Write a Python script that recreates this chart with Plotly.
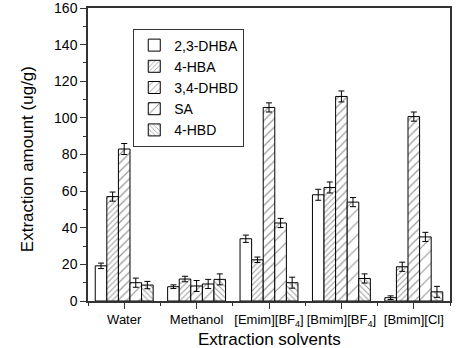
import plotly.graph_objects as go

# Extraction solvents (x categories)
solvents = ["Water", "Methanol", "[Emim][BF<sub>4</sub>]", "[Bmim][BF<sub>4</sub>]", "[Bmim][Cl]"]

# Extraction amounts (ug/g) per compound, with error bar half-widths
dhba_23 = [19.2, 7.8, 34.0, 58.0, 1.8]
dhba_23_err = [1.5, 1.0, 2.0, 3.0, 1.0]
hba_4 = [57.0, 12.0, 22.5, 62.0, 18.7]
hba_4_err = [2.5, 1.5, 1.5, 3.0, 2.5]
dhbd_34 = [83.0, 8.2, 105.7, 111.7, 100.7]
dhbd_34_err = [3.0, 3.0, 2.5, 3.0, 2.5]
sa = [10.0, 9.3, 42.6, 54.0, 35.0]
sa_err = [2.5, 2.5, 2.5, 2.5, 2.5]
hbd_4 = [8.7, 11.8, 10.0, 12.3, 5.0]
hbd_4_err = [2.0, 3.0, 3.0, 2.5, 3.0]

series = [
    ("2,3-DHBA", dhba_23, dhba_23_err, dict(shape="", fgcolor="black")),
    ("4-HBA", hba_4, hba_4_err, dict(shape="/", size=4, solidity=0.25, fgcolor="#333")),
    ("3,4-DHBD", dhbd_34, dhbd_34_err, dict(shape="/", size=6, solidity=0.2, fgcolor="#333")),
    ("SA", sa, sa_err, dict(shape="/", size=9, solidity=0.13, fgcolor="#333")),
    ("4-HBD", hbd_4, hbd_4_err, dict(shape="\\", size=4, solidity=0.25, fgcolor="#333")),
]

x_pos = list(range(1, len(solvents) + 1))

fig = go.Figure()
for name, vals, errs, pattern in series:
    fig.add_trace(go.Bar(
        name=name,
        x=x_pos,
        y=vals,
        error_y=dict(type="data", array=errs, color="black", thickness=1, width=3),
        marker=dict(color="white", line=dict(color="black", width=1), pattern=pattern),
    ))

font_family = "Liberation Sans, Arial"
axis_font = dict(family=font_family, size=13, color="black")
title_font = dict(family=font_family, size=17, color="black")

fig.update_layout(
    width=474,
    height=348,
    margin=dict(l=88, r=24, t=8, b=47),
    plot_bgcolor="white",
    paper_bgcolor="white",
    barmode="group",
    bargap=0.2,
    bargroupgap=0,
    showlegend=True,
    legend=dict(
        x=0.125, y=0.93, xanchor="left", yanchor="top",
        bordercolor="#333", borderwidth=1, bgcolor="white",
        font=dict(family=font_family, size=14, color="black"),
        tracegroupgap=0, itemwidth=30,
    ),
    xaxis=dict(
        range=[0.5, 5.5],
        tickvals=x_pos,
        ticktext=solvents,
        ticks="outside", ticklen=6, tickcolor="#333",
        ticklabelstandoff=0,
        minor=dict(tickvals=[0.5, 1.5, 2.5, 3.5, 4.5, 5.5], ticks="outside", ticklen=3, tickcolor="#333"),
        showline=True, linecolor="#333", linewidth=1.5, mirror=True,
        showgrid=False, zeroline=False,
        tickfont=axis_font,
        automargin=False,
    ),
    yaxis=dict(
        range=[0, 160],
        tick0=0, dtick=20,
        ticks="outside", ticklen=6, tickcolor="#333",
        minor=dict(dtick=10, ticks="outside", ticklen=3, tickcolor="#333"),
        showline=True, linecolor="#333", linewidth=1.5, mirror=True,
        showgrid=False, zeroline=False,
        tickfont=dict(family=font_family, size=14, color="black"),
        ticklabeloverflow="allow",
        automargin=False,
    ),
    annotations=[
        dict(
            text="Extraction amount (ug/g)",
            xref="paper", yref="paper",
            x=-0.165, y=0.485, xanchor="center", yanchor="middle",
            textangle=-90, showarrow=False, font=title_font,
        ),
        dict(
            text="Extraction solvents",
            xref="paper", yref="paper",
            x=0.5, y=-0.13, xanchor="center", yanchor="middle",
            showarrow=False, font=title_font,
        ),
    ],
)

fig.write_html("out.html")
